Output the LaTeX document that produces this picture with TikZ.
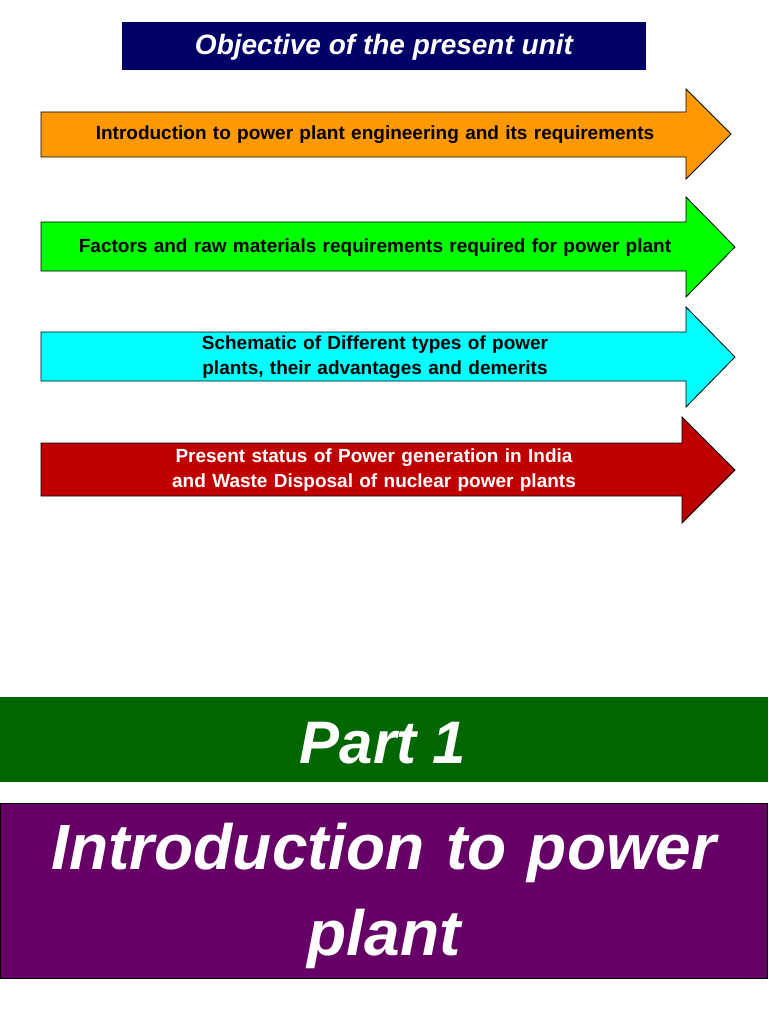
\documentclass[tikz,border=0pt]{standalone}
\usepackage{fontspec}
\setmainfont{Liberation Sans}
\definecolor{navy}{RGB}{0,0,102}
\definecolor{orng}{RGB}{255,153,0}
\definecolor{grn}{RGB}{0,255,0}
\definecolor{cyn}{RGB}{0,255,255}
\definecolor{dred}{RGB}{192,0,0}
\definecolor{dgreen}{RGB}{0,102,0}
\definecolor{purp}{RGB}{102,0,102}
\begin{document}
\begin{tikzpicture}[x=1pt,y=-1pt,
  arr/.style={draw=black,line width=0.8pt},
  atext/.style={font=\fontsize{19}{25}\selectfont\bfseries,align=center,text width=650pt}]
\useasboundingbox (0,0) rectangle (768,1024);
\fill[white] (0,0) rectangle (768,1024);
\fill[navy] (122,22) rectangle (646,70);
\node[text=white,font=\fontsize{28}{32}\selectfont\bfseries\itshape] (title) at (384,47) {Objective of the present unit};
\filldraw[arr,fill=orng] (41,112) -- (686,112) -- (686,89) -- (731,134) -- (686,179) -- (686,157) -- (41,157) -- cycle;
\node[atext] (a1) at (375,135) {Introduction to power plant engineering and its requirements};
\filldraw[arr,fill=grn] (41,222) -- (686,222) -- (686,197) -- (735,247) -- (686,297) -- (686,271) -- (41,271) -- cycle;
\node[atext] (a2) at (375,248) {Factors and raw materials requirements required for power plant};
\filldraw[arr,fill=cyn] (41,332) -- (686,332) -- (686,307) -- (735,357) -- (686,407) -- (686,381) -- (41,381) -- cycle;
\node[atext] (a3) at (375,357) {Schematic of Different types of power plants, their advantages and demerits};
\filldraw[arr,fill=dred] (41,443) -- (682,443) -- (682,417) -- (735,470) -- (682,523) -- (682,496) -- (41,496) -- cycle;
\node[atext,text=white] (a4) at (374,470) {Present status of Power generation in India and Waste Disposal of nuclear power plants};
\fill[dgreen] (0,697) rectangle (768,782);
\node[text=white,font=\fontsize{60}{66}\selectfont\bfseries\itshape] (p1) at (383,743) {Part 1};
\filldraw[fill=purp,draw=black] (0.5,803) rectangle (767.5,978);
\node[text=white,font=\fontsize{64}{86}\selectfont\bfseries\itshape,align=center,text width=768pt] (intro) at (384,896) {Introduction to power\\plant};
\end{tikzpicture}
\end{document}
